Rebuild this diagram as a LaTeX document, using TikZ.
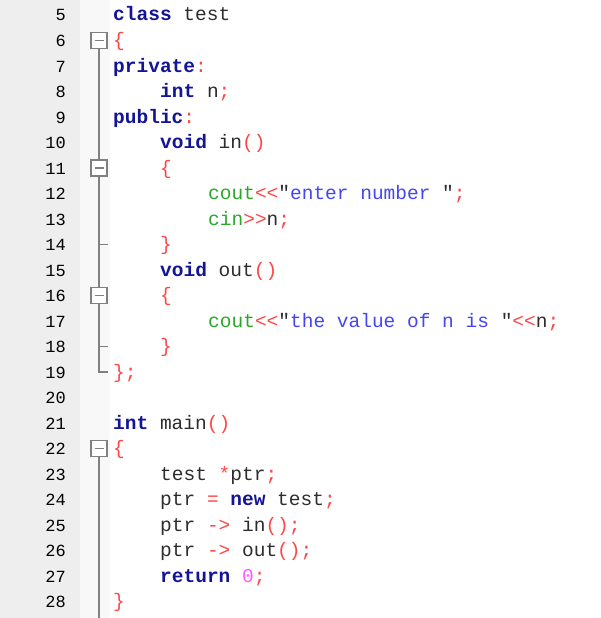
\documentclass[tikz,border=0pt]{standalone}
\usepackage{fontspec}
\setmonofont{Liberation Mono}
\definecolor{ckwc}{RGB}{20,20,150}
\definecolor{copc}{RGB}{255,70,70}
\definecolor{cfnc}{RGB}{40,170,40}
\definecolor{cstc}{RGB}{70,70,240}
\definecolor{cnmc}{RGB}{255,90,255}
\definecolor{cplc}{RGB}{45,45,45}
\definecolor{gutter}{RGB}{238,238,238}
\definecolor{foldbg}{RGB}{248,248,248}
\definecolor{foldln}{RGB}{128,128,128}
\newcommand{\ckw}[1]{\textcolor{ckwc}{\bfseries #1}}
\newcommand{\cop}[1]{\textcolor{copc}{#1}}
\newcommand{\cfn}[1]{\textcolor{cfnc}{#1}}
\newcommand{\cst}[1]{\textcolor{cstc}{#1}}
\newcommand{\cnm}[1]{\textcolor{cnmc}{#1}}
\begin{document}
\begin{tikzpicture}[x=1pt,y=-1pt,
  code/.style={anchor=base west,inner sep=0pt,font=\fontsize{19.5}{20}\ttfamily,text=cplc},
  num/.style={anchor=base east,inner sep=0pt,font=\fontsize{17}{18}\ttfamily,text=black},
  fbox/.style={draw=foldln,fill=white,line width=1.2pt,minimum size=16pt,inner sep=0pt},
  fline/.style={draw=foldln,line width=1.5pt}]
\fill[white] (0,0) rectangle (600,618);
\fill[gutter] (0,0) rectangle (80,618);
\fill[foldbg] (80,0) rectangle (110,618);
\useasboundingbox (0,0) rectangle (600,618);
\foreach \n in {5,...,28}{
  \node[num] (n\n) at (66,{15+(\n-5)*25.5+6}) {\n};
}
\def\Y#1{{15+(#1-5)*25.5+6}}
\node[code] (l5) at (113,\Y{5}) {\ckw{class} test};
\node[code] (l6) at (113,\Y{6}) {\cop{\{}};
\node[code] (l7) at (113,\Y{7}) {\ckw{private}\cop{:}};
\node[code] (l8) at (160,\Y{8}) {\ckw{int} n\cop{;}};
\node[code] (l9) at (113,\Y{9}) {\ckw{public}\cop{:}};
\node[code] (l10) at (160,\Y{10}) {\ckw{void} in\cop{()}};
\node[code] (l11) at (160,\Y{11}) {\cop{\{}};
\node[code] (l12) at (208,\Y{12}) {\cfn{cout}\cop{<<}"\cst{enter number\ }"\cop{;}};
\node[code] (l13) at (208,\Y{13}) {\cfn{cin}\cop{>>}n\cop{;}};
\node[code] (l14) at (160,\Y{14}) {\cop{\}}};
\node[code] (l15) at (160,\Y{15}) {\ckw{void} out\cop{()}};
\node[code] (l16) at (160,\Y{16}) {\cop{\{}};
\node[code] (l17) at (208,\Y{17}) {\cfn{cout}\cop{<<}"\cst{the value of n is\ }"\cop{<<}n\cop{;}};
\node[code] (l18) at (160,\Y{18}) {\cop{\}}};
\node[code] (l19) at (113,\Y{19}) {\cop{\};}};
\node[code] (l21) at (113,\Y{21}) {\ckw{int} main\cop{()}};
\node[code] (l22) at (113,\Y{22}) {\cop{\{}};
\node[code] (l23) at (160,\Y{23}) {test \cop{*}ptr\cop{;}};
\node[code] (l24) at (160,\Y{24}) {ptr \cop{=} \ckw{new} test\cop{;}};
\node[code] (l25) at (160,\Y{25}) {ptr \cop{->} in\cop{();}};
\node[code] (l26) at (160,\Y{26}) {ptr \cop{->} out\cop{();}};
\node[code] (l27) at (160,\Y{27}) {\ckw{return} \cnm{0}\cop{;}};
\node[code] (l28) at (113,\Y{28}) {\cop{\}}};
% folding markers
\coordinate (c19) at (99,{15+14*25.5});
\coordinate (e19) at (108,{15+14*25.5});
\coordinate (t14) at (99,{15+9*25.5});
\coordinate (e14) at (108,{15+9*25.5});
\coordinate (t18) at (99,{15+13*25.5});
\coordinate (e18) at (108,{15+13*25.5});
\coordinate (bot) at (99,618);
\node[fbox] (f6) at (99,{15+1*25.5}) {};
\node[fbox] (f11) at (99,{15+6*25.5}) {};
\node[fbox] (f16) at (99,{15+11*25.5}) {};
\node[fbox] (f22) at (99,{15+17*25.5}) {};
\draw[fline] (f6.south) -- (f11.north);
\draw[fline] (f11.south) -- (f16.north);
\draw[fline] (f16.south) -- (c19) -- (e19);
\draw[fline] (t14) -- (e14);
\draw[fline] (t18) -- (e18);
\draw[fline] (f22.south) -- (bot);
\foreach \f in {f6,f11,f16,f22}{
  \draw[draw=foldln,line width=1.2pt] ([xshift=-4.5pt]\f.center) -- ([xshift=4.5pt]\f.center);
}
\end{tikzpicture}
\end{document}
